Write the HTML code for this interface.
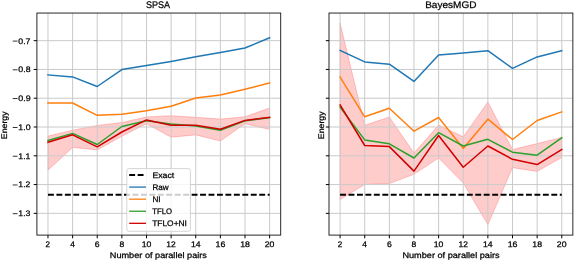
<!DOCTYPE html>
<html><head><meta charset="utf-8"><style>
html,body{margin:0;padding:0;background:#fff;}
body{width:575px;height:261px;overflow:hidden;}
svg{display:block;will-change:transform;}
text{font-family:"Liberation Sans",sans-serif;fill:#000;stroke:#000;stroke-width:0.25px;text-rendering:geometricPrecision;}
</style></head><body>
<svg width="575" height="261" viewBox="0 0 575 261">
<rect x="0" y="0" width="575" height="261" fill="#fff"/>
<polygon points="47.98,136.1 72.61,130.2 97.23,125.4 121.86,122.5 146.49,116.9 171.11,115.7 195.74,117.3 220.37,119.1 244.99,116.8 269.62,108 269.62,129.5 244.99,123.7 220.37,141 195.74,134.9 171.11,137.2 146.49,123.7 121.86,136.3 97.23,149.9 72.61,147.4 47.98,170.2" fill="rgba(255,0,0,0.2)" stroke="rgba(255,0,0,0.2)" stroke-width="1.0" stroke-linejoin="round"/>
<line x1="47.98" y1="13.05" x2="47.98" y2="235.1" stroke="#cacaca" stroke-width="1.0"/>
<line x1="72.61" y1="13.05" x2="72.61" y2="235.1" stroke="#cacaca" stroke-width="1.0"/>
<line x1="97.23" y1="13.05" x2="97.23" y2="235.1" stroke="#cacaca" stroke-width="1.0"/>
<line x1="121.86" y1="13.05" x2="121.86" y2="235.1" stroke="#cacaca" stroke-width="1.0"/>
<line x1="146.49" y1="13.05" x2="146.49" y2="235.1" stroke="#cacaca" stroke-width="1.0"/>
<line x1="171.11" y1="13.05" x2="171.11" y2="235.1" stroke="#cacaca" stroke-width="1.0"/>
<line x1="195.74" y1="13.05" x2="195.74" y2="235.1" stroke="#cacaca" stroke-width="1.0"/>
<line x1="220.37" y1="13.05" x2="220.37" y2="235.1" stroke="#cacaca" stroke-width="1.0"/>
<line x1="244.99" y1="13.05" x2="244.99" y2="235.1" stroke="#cacaca" stroke-width="1.0"/>
<line x1="269.62" y1="13.05" x2="269.62" y2="235.1" stroke="#cacaca" stroke-width="1.0"/>
<line x1="36.9" y1="40.67" x2="280.7" y2="40.67" stroke="#cacaca" stroke-width="1.0"/>
<line x1="36.9" y1="69.45" x2="280.7" y2="69.45" stroke="#cacaca" stroke-width="1.0"/>
<line x1="36.9" y1="98.23" x2="280.7" y2="98.23" stroke="#cacaca" stroke-width="1.0"/>
<line x1="36.9" y1="127.01" x2="280.7" y2="127.01" stroke="#cacaca" stroke-width="1.0"/>
<line x1="36.9" y1="155.79" x2="280.7" y2="155.79" stroke="#cacaca" stroke-width="1.0"/>
<line x1="36.9" y1="184.57" x2="280.7" y2="184.57" stroke="#cacaca" stroke-width="1.0"/>
<line x1="36.9" y1="213.35" x2="280.7" y2="213.35" stroke="#cacaca" stroke-width="1.0"/>
<line x1="47.98" y1="194.7" x2="269.62" y2="194.7" stroke="#000" stroke-width="1.85" stroke-dasharray="5.9 2.55"/>
<polyline points="47.98,74.9 72.61,76.9 97.23,86.5 121.86,69.6 146.49,65.6 171.11,61.4 195.74,56.8 220.37,52.4 244.99,48 269.62,37.8" fill="none" stroke="#1f77b4" stroke-width="1.5" stroke-linejoin="round" stroke-linecap="square"/>
<polyline points="47.98,103 72.61,103 97.23,115.3 121.86,114.2 146.49,110.7 171.11,106.2 195.74,98 220.37,95.1 244.99,89.3 269.62,83" fill="none" stroke="#ff7f0e" stroke-width="1.5" stroke-linejoin="round" stroke-linecap="square"/>
<polyline points="47.98,140.5 72.61,133.4 97.23,144.5 121.86,126.5 146.49,120.8 171.11,124.1 195.74,126 220.37,130.3 244.99,120.8 269.62,117.6" fill="none" stroke="#2ca02c" stroke-width="1.5" stroke-linejoin="round" stroke-linecap="square"/>
<polyline points="47.98,142.2 72.61,134.8 97.23,146.8 121.86,132 146.49,119.9 171.11,125.2 195.74,125.2 220.37,129.2 244.99,120.4 269.62,117.3" fill="none" stroke="#d00000" stroke-width="1.5" stroke-linejoin="round" stroke-linecap="square"/>
<rect x="36.9" y="13.05" width="243.8" height="222.05" fill="none" stroke="#111" stroke-width="0.9"/>
<line x1="47.98" y1="235.1" x2="47.98" y2="238.3" stroke="#000" stroke-width="1.0"/>
<line x1="72.61" y1="235.1" x2="72.61" y2="238.3" stroke="#000" stroke-width="1.0"/>
<line x1="97.23" y1="235.1" x2="97.23" y2="238.3" stroke="#000" stroke-width="1.0"/>
<line x1="121.86" y1="235.1" x2="121.86" y2="238.3" stroke="#000" stroke-width="1.0"/>
<line x1="146.49" y1="235.1" x2="146.49" y2="238.3" stroke="#000" stroke-width="1.0"/>
<line x1="171.11" y1="235.1" x2="171.11" y2="238.3" stroke="#000" stroke-width="1.0"/>
<line x1="195.74" y1="235.1" x2="195.74" y2="238.3" stroke="#000" stroke-width="1.0"/>
<line x1="220.37" y1="235.1" x2="220.37" y2="238.3" stroke="#000" stroke-width="1.0"/>
<line x1="244.99" y1="235.1" x2="244.99" y2="238.3" stroke="#000" stroke-width="1.0"/>
<line x1="269.62" y1="235.1" x2="269.62" y2="238.3" stroke="#000" stroke-width="1.0"/>
<line x1="33.7" y1="40.67" x2="36.9" y2="40.67" stroke="#000" stroke-width="1.0"/>
<line x1="33.7" y1="69.45" x2="36.9" y2="69.45" stroke="#000" stroke-width="1.0"/>
<line x1="33.7" y1="98.23" x2="36.9" y2="98.23" stroke="#000" stroke-width="1.0"/>
<line x1="33.7" y1="127.01" x2="36.9" y2="127.01" stroke="#000" stroke-width="1.0"/>
<line x1="33.7" y1="155.79" x2="36.9" y2="155.79" stroke="#000" stroke-width="1.0"/>
<line x1="33.7" y1="184.57" x2="36.9" y2="184.57" stroke="#000" stroke-width="1.0"/>
<line x1="33.7" y1="213.35" x2="36.9" y2="213.35" stroke="#000" stroke-width="1.0"/>
<text x="45.64" y="247.2" font-size="8.06" textLength="4.52" lengthAdjust="spacingAndGlyphs">2</text>
<text x="70.28" y="247.2" font-size="8.06" textLength="4.66" lengthAdjust="spacingAndGlyphs">4</text>
<text x="94.84" y="247.2" font-size="8.06" textLength="4.77" lengthAdjust="spacingAndGlyphs">6</text>
<text x="119.45" y="247.2" font-size="8.06" textLength="4.75" lengthAdjust="spacingAndGlyphs">8</text>
<text x="141.68" y="247.2" font-size="8.06" textLength="9.64" lengthAdjust="spacingAndGlyphs">10</text>
<text x="166.32" y="247.2" font-size="8.06" textLength="9.45" lengthAdjust="spacingAndGlyphs">12</text>
<text x="190.93" y="247.2" font-size="8.06" textLength="9.61" lengthAdjust="spacingAndGlyphs">14</text>
<text x="215.55" y="247.2" font-size="8.06" textLength="9.79" lengthAdjust="spacingAndGlyphs">16</text>
<text x="240.18" y="247.2" font-size="8.06" textLength="9.74" lengthAdjust="spacingAndGlyphs">18</text>
<text x="264.73" y="247.2" font-size="8.06" textLength="9.73" lengthAdjust="spacingAndGlyphs">20</text>
<text x="18.32" y="43.57" font-size="8.06" textLength="12.17" lengthAdjust="spacingAndGlyphs">0.7</text>
<rect x="12.75" y="40.67" width="4.76" height="0.8" fill="#000"/>
<text x="18.32" y="72.35" font-size="8.06" textLength="12.2" lengthAdjust="spacingAndGlyphs">0.8</text>
<rect x="12.75" y="69.45" width="4.76" height="0.8" fill="#000"/>
<text x="18.32" y="101.13" font-size="8.06" textLength="12.29" lengthAdjust="spacingAndGlyphs">0.9</text>
<rect x="12.75" y="98.23" width="4.76" height="0.8" fill="#000"/>
<text x="18.35" y="129.91" font-size="8.06" textLength="12.19" lengthAdjust="spacingAndGlyphs">1.0</text>
<rect x="12.75" y="127.01" width="4.76" height="0.8" fill="#000"/>
<text x="18.35" y="158.69" font-size="8.06" textLength="12.09" lengthAdjust="spacingAndGlyphs">1.1</text>
<rect x="12.75" y="155.79" width="4.76" height="0.8" fill="#000"/>
<text x="18.36" y="187.47" font-size="8.06" textLength="12.01" lengthAdjust="spacingAndGlyphs">1.2</text>
<rect x="12.75" y="184.57" width="4.76" height="0.8" fill="#000"/>
<text x="18.35" y="216.25" font-size="8.06" textLength="12.06" lengthAdjust="spacingAndGlyphs">1.3</text>
<rect x="12.75" y="213.35" width="4.76" height="0.8" fill="#000"/>
<text x="109.81" y="258" font-size="8.18" textLength="97.15" lengthAdjust="spacingAndGlyphs">Number of parallel pairs</text>
<g transform="translate(6.7,125.2) rotate(-90)">
<text x="-14.03" y="0" font-size="8.18" textLength="27.89" lengthAdjust="spacingAndGlyphs">Energy</text>
</g>
<text x="145.89" y="7.7" font-size="9.64" textLength="24.13" lengthAdjust="spacingAndGlyphs">SPSA</text>
<polygon points="340.08,23 364.72,125.3 389.35,117 413.98,153.1 438.61,125 463.24,136.8 487.87,102 512.5,149.5 537.13,143.6 561.77,137.4 561.77,157.5 537.13,171.4 512.5,167.7 487.87,224.7 463.24,183 438.61,158 413.98,174.3 389.35,183.5 364.72,184.5 340.08,199.6" fill="rgba(255,0,0,0.2)" stroke="rgba(255,0,0,0.2)" stroke-width="1.0" stroke-linejoin="round"/>
<line x1="340.08" y1="13.05" x2="340.08" y2="235.1" stroke="#cacaca" stroke-width="1.0"/>
<line x1="364.72" y1="13.05" x2="364.72" y2="235.1" stroke="#cacaca" stroke-width="1.0"/>
<line x1="389.35" y1="13.05" x2="389.35" y2="235.1" stroke="#cacaca" stroke-width="1.0"/>
<line x1="413.98" y1="13.05" x2="413.98" y2="235.1" stroke="#cacaca" stroke-width="1.0"/>
<line x1="438.61" y1="13.05" x2="438.61" y2="235.1" stroke="#cacaca" stroke-width="1.0"/>
<line x1="463.24" y1="13.05" x2="463.24" y2="235.1" stroke="#cacaca" stroke-width="1.0"/>
<line x1="487.87" y1="13.05" x2="487.87" y2="235.1" stroke="#cacaca" stroke-width="1.0"/>
<line x1="512.5" y1="13.05" x2="512.5" y2="235.1" stroke="#cacaca" stroke-width="1.0"/>
<line x1="537.13" y1="13.05" x2="537.13" y2="235.1" stroke="#cacaca" stroke-width="1.0"/>
<line x1="561.77" y1="13.05" x2="561.77" y2="235.1" stroke="#cacaca" stroke-width="1.0"/>
<line x1="329" y1="40.67" x2="572.85" y2="40.67" stroke="#cacaca" stroke-width="1.0"/>
<line x1="329" y1="69.45" x2="572.85" y2="69.45" stroke="#cacaca" stroke-width="1.0"/>
<line x1="329" y1="98.23" x2="572.85" y2="98.23" stroke="#cacaca" stroke-width="1.0"/>
<line x1="329" y1="127.01" x2="572.85" y2="127.01" stroke="#cacaca" stroke-width="1.0"/>
<line x1="329" y1="155.79" x2="572.85" y2="155.79" stroke="#cacaca" stroke-width="1.0"/>
<line x1="329" y1="184.57" x2="572.85" y2="184.57" stroke="#cacaca" stroke-width="1.0"/>
<line x1="329" y1="213.35" x2="572.85" y2="213.35" stroke="#cacaca" stroke-width="1.0"/>
<line x1="340.08" y1="194.7" x2="561.77" y2="194.7" stroke="#000" stroke-width="1.85" stroke-dasharray="5.9 2.55"/>
<polyline points="340.08,50.4 364.72,61.9 389.35,64.2 413.98,81.4 438.61,55 463.24,53 487.87,50.7 512.5,68.4 537.13,56.9 561.77,50.7" fill="none" stroke="#1f77b4" stroke-width="1.5" stroke-linejoin="round" stroke-linecap="square"/>
<polyline points="340.08,77.1 364.72,116.8 389.35,108.2 413.98,131.2 438.61,117.5 463.24,148.4 487.87,119.2 512.5,139.5 537.13,120.5 561.77,111.9" fill="none" stroke="#ff7f0e" stroke-width="1.5" stroke-linejoin="round" stroke-linecap="square"/>
<polyline points="340.08,107.2 364.72,139.9 389.35,143.8 413.98,158 438.61,132.7 463.24,146 487.87,139.3 512.5,152.2 537.13,155.2 561.77,137.9" fill="none" stroke="#2ca02c" stroke-width="1.5" stroke-linejoin="round" stroke-linecap="square"/>
<polyline points="340.08,105 364.72,145.5 389.35,146.6 413.98,171.1 438.61,135.5 463.24,167.2 487.87,146 512.5,159.3 537.13,164.6 561.77,149.5" fill="none" stroke="#d00000" stroke-width="1.5" stroke-linejoin="round" stroke-linecap="square"/>
<rect x="329" y="13.05" width="243.85" height="222.05" fill="none" stroke="#111" stroke-width="0.9"/>
<line x1="340.08" y1="235.1" x2="340.08" y2="238.3" stroke="#000" stroke-width="1.0"/>
<line x1="364.72" y1="235.1" x2="364.72" y2="238.3" stroke="#000" stroke-width="1.0"/>
<line x1="389.35" y1="235.1" x2="389.35" y2="238.3" stroke="#000" stroke-width="1.0"/>
<line x1="413.98" y1="235.1" x2="413.98" y2="238.3" stroke="#000" stroke-width="1.0"/>
<line x1="438.61" y1="235.1" x2="438.61" y2="238.3" stroke="#000" stroke-width="1.0"/>
<line x1="463.24" y1="235.1" x2="463.24" y2="238.3" stroke="#000" stroke-width="1.0"/>
<line x1="487.87" y1="235.1" x2="487.87" y2="238.3" stroke="#000" stroke-width="1.0"/>
<line x1="512.5" y1="235.1" x2="512.5" y2="238.3" stroke="#000" stroke-width="1.0"/>
<line x1="537.13" y1="235.1" x2="537.13" y2="238.3" stroke="#000" stroke-width="1.0"/>
<line x1="561.77" y1="235.1" x2="561.77" y2="238.3" stroke="#000" stroke-width="1.0"/>
<line x1="325.8" y1="40.67" x2="329" y2="40.67" stroke="#000" stroke-width="1.0"/>
<line x1="325.8" y1="69.45" x2="329" y2="69.45" stroke="#000" stroke-width="1.0"/>
<line x1="325.8" y1="98.23" x2="329" y2="98.23" stroke="#000" stroke-width="1.0"/>
<line x1="325.8" y1="127.01" x2="329" y2="127.01" stroke="#000" stroke-width="1.0"/>
<line x1="325.8" y1="155.79" x2="329" y2="155.79" stroke="#000" stroke-width="1.0"/>
<line x1="325.8" y1="184.57" x2="329" y2="184.57" stroke="#000" stroke-width="1.0"/>
<line x1="325.8" y1="213.35" x2="329" y2="213.35" stroke="#000" stroke-width="1.0"/>
<text x="337.74" y="247.2" font-size="8.06" textLength="4.52" lengthAdjust="spacingAndGlyphs">2</text>
<text x="362.39" y="247.2" font-size="8.06" textLength="4.66" lengthAdjust="spacingAndGlyphs">4</text>
<text x="386.96" y="247.2" font-size="8.06" textLength="4.77" lengthAdjust="spacingAndGlyphs">6</text>
<text x="411.57" y="247.2" font-size="8.06" textLength="4.75" lengthAdjust="spacingAndGlyphs">8</text>
<text x="433.8" y="247.2" font-size="8.06" textLength="9.64" lengthAdjust="spacingAndGlyphs">10</text>
<text x="458.45" y="247.2" font-size="8.06" textLength="9.45" lengthAdjust="spacingAndGlyphs">12</text>
<text x="483.07" y="247.2" font-size="8.06" textLength="9.61" lengthAdjust="spacingAndGlyphs">14</text>
<text x="507.69" y="247.2" font-size="8.06" textLength="9.79" lengthAdjust="spacingAndGlyphs">16</text>
<text x="532.32" y="247.2" font-size="8.06" textLength="9.74" lengthAdjust="spacingAndGlyphs">18</text>
<text x="556.87" y="247.2" font-size="8.06" textLength="9.73" lengthAdjust="spacingAndGlyphs">20</text>
<text x="402.41" y="258" font-size="8.18" textLength="97.15" lengthAdjust="spacingAndGlyphs">Number of parallel pairs</text>
<g transform="translate(324.1,125.2) rotate(-90)">
<text x="-14.03" y="0" font-size="8.18" textLength="27.89" lengthAdjust="spacingAndGlyphs">Energy</text>
</g>
<text x="425.19" y="7.7" font-size="9.64" textLength="51.25" lengthAdjust="spacingAndGlyphs">BayesMGD</text>
<rect x="126.8" y="168.6" width="63.6" height="62.7" rx="2" ry="2" fill="rgba(255,255,255,0.8)" stroke="#d0d0d0" stroke-width="0.9"/>
<line x1="129.2" y1="175" x2="146" y2="175" stroke="#000" stroke-width="1.85" stroke-dasharray="5.9 2.55"/>
<text x="152.4" y="177.75" font-size="8.06" textLength="21.88" lengthAdjust="spacingAndGlyphs">Exact</text>
<line x1="129.2" y1="187.08" x2="146" y2="187.08" stroke="#1f77b4" stroke-width="1.3"/>
<text x="152.46" y="189.83" font-size="8.06" textLength="16.22" lengthAdjust="spacingAndGlyphs">Raw</text>
<line x1="129.2" y1="199.16" x2="146" y2="199.16" stroke="#ff7f0e" stroke-width="1.3"/>
<text x="152.46" y="201.91" font-size="8.06" textLength="8.12" lengthAdjust="spacingAndGlyphs">NI</text>
<line x1="129.2" y1="211.24" x2="146" y2="211.24" stroke="#2ca02c" stroke-width="1.3"/>
<text x="152.19" y="213.99" font-size="8.06" textLength="19.8" lengthAdjust="spacingAndGlyphs">TFLO</text>
<line x1="129.2" y1="223.32" x2="146" y2="223.32" stroke="#d00000" stroke-width="1.3"/>
<text x="152.17" y="226.07" font-size="8.06" textLength="34.78" lengthAdjust="spacingAndGlyphs">TFLO+NI</text>
</svg>
</body></html>
